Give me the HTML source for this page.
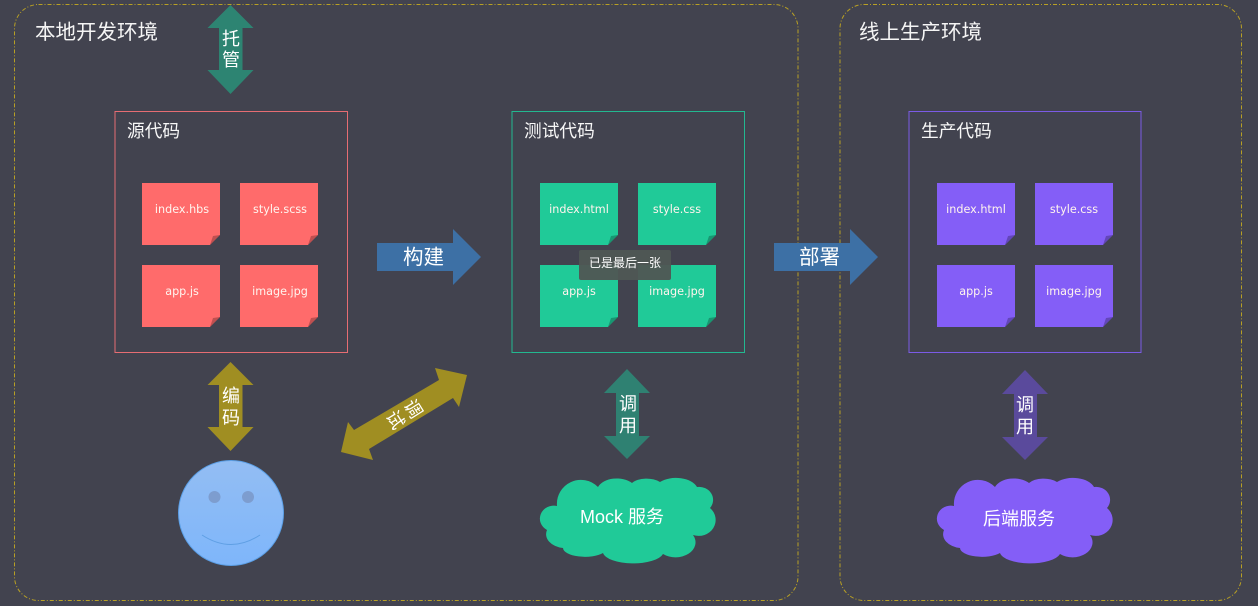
<!DOCTYPE html>
<html lang="zh">
<head>
<meta charset="utf-8">
<title>开发环境与生产环境</title>
<style>
html,body{margin:0;padding:0;width:1258px;height:606px;overflow:hidden;background:#42434f}
svg{display:block;filter:blur(.3px)}
text{font-family:"Liberation Sans","Noto Sans CJK SC",sans-serif;fill:#fff}
.n{font-family:"DejaVu Sans","Liberation Sans",sans-serif;font-size:11.2px;text-anchor:middle;fill:#fff4ee}
.t{font-size:20.5px;fill:#f5f5f5}
.b{font-size:17.7px;fill:#f8f8f8}
.m{font-size:18px;text-anchor:middle}
</style>
</head>
<body>
<svg width="1258" height="606" viewBox="0 0 1258 606" xmlns="http://www.w3.org/2000/svg">
<defs>
<linearGradient id="face" x1="0" y1="0" x2="0" y2="1"><stop offset="0" stop-color="#93bdf3"/><stop offset="1" stop-color="#7eb6fb"/></linearGradient>
<path id="cloud" d="M547 530A14 13 0 0 1 557 506A24 24 0 0 1 598 487A20 13 0 0 1 632 483A17 9 0 0 1 660 482A22 13 0 0 1 697 487A14 13 0 0 1 710 508A17 16 0 0 1 693 535A20 15 0 0 1 663 554A30.5 12 0 0 1 603 553A22 9 0 0 1 563 548A20 14 0 0 1 547 530Z"/>
<g id="note"><path d="M0 0H78V52L68 62H0Z"/><path d="M78 52L71 53L68 62Z" fill="#000" opacity=".25"/></g>
</defs>

<rect width="1258" height="606" fill="#42434f"/>

<!-- environment frames -->
<rect x="14.5" y="4.5" width="783.5" height="596" rx="24" fill="none" stroke="#b8a024" stroke-width="1" stroke-dasharray="4 2 1 2"/>
<rect x="840" y="4.5" width="401.5" height="596" rx="24" fill="none" stroke="#b8a024" stroke-width="1" stroke-dasharray="4 2 1 2"/>
<text class="t" x="35" y="39">本地开发环境</text>
<text class="t" x="859" y="39">线上生产环境</text>

<!-- code boxes -->
<rect x="115" y="111.5" width="232.500" height="241" fill="none" stroke="#e66d73"/>
<rect x="512" y="111.5" width="232.500" height="241" fill="none" stroke="#23b890"/>
<rect x="909" y="111.5" width="232" height="241" fill="none" stroke="#7b5be6"/>
<text class="b" x="127" y="137">源代码</text>
<text class="b" x="524" y="137">测试代码</text>
<text class="b" x="921" y="137">生产代码</text>

<!-- red notes -->
<g fill="#ff6b6b">
<use href="#note" x="142" y="183"/><use href="#note" x="240" y="183"/>
<use href="#note" x="142" y="265"/><use href="#note" x="240" y="265"/>
</g>
<text class="n" x="182" y="213">index.hbs</text>
<text class="n" x="280" y="213">style.scss</text>
<text class="n" x="182" y="295">app.js</text>
<text class="n" x="280" y="295">image.jpg</text>

<!-- green notes -->
<g fill="#20ca98">
<use href="#note" x="540" y="183"/><use href="#note" x="638" y="183"/>
<use href="#note" x="540" y="265"/><use href="#note" x="638" y="265"/>
</g>
<text class="n" x="579" y="213">index.html</text>
<text class="n" x="677" y="213">style.css</text>
<text class="n" x="579" y="295">app.js</text>
<text class="n" x="677" y="295">image.jpg</text>

<!-- purple notes -->
<g fill="#845ef7">
<use href="#note" x="937" y="183"/><use href="#note" x="1035" y="183"/>
<use href="#note" x="937" y="265"/><use href="#note" x="1035" y="265"/>
</g>
<text class="n" x="976" y="213">index.html</text>
<text class="n" x="1074" y="213">style.css</text>
<text class="n" x="976" y="295">app.js</text>
<text class="n" x="1074" y="295">image.jpg</text>

<!-- vertical double arrows -->
<path fill="#2d8472" d="M230.5 5L253.5 28H242.500V70H253.5L230.5 94L207.500 70H219V28H207.500Z"/>
<text class="m" x="231" y="45">托</text>
<text class="m" x="231" y="66">管</text>

<path fill="#a08e22" d="M230.5 362L253.5 385H242.500V427H253.5L230.5 451L207.500 427H219V385H207.500Z"/>
<text class="m" x="231" y="402">编</text>
<text class="m" x="231" y="424">码</text>

<path fill="#2f8172" d="M627 369L650 393H639V436H650L627 459L604 436H616V393H604Z"/>
<text class="m" x="628" y="410">调</text>
<text class="m" x="628" y="432">用</text>

<path fill="#5a4a9c" d="M1025 370L1048 394H1037V437H1048L1025 460L1002 437H1014V394H1002Z"/>
<text class="m" x="1025" y="411">调</text>
<text class="m" x="1025" y="433">用</text>

<!-- diagonal double arrow -->
<path fill="#a08e22" d="M467 375L459 407L453 398L369 449L373 460L341 452L348 422L354 430L439 380L435 368Z"/>
<text class="m" x="413" y="415" transform="rotate(58 413 409)">调</text>
<text class="m" x="395" y="426" transform="rotate(58 395 420)">试</text>

<!-- right arrows -->
<path fill="#3d70a5" d="M377 243H453V229L481 257L453 285V271H377Z"/>
<text x="403" y="264" style="font-size:20.5px">构建</text>
<path fill="#3d70a5" d="M774 243H850V229L878 257L850 285V271H774Z"/>
<text x="799" y="264" style="font-size:20.5px">部署</text>

<!-- toast -->
<rect x="579" y="250" width="92" height="30" rx="2" fill="#4f5754" fill-opacity=".96"/>
<text x="625" y="267" style="font-size:12px;text-anchor:middle">已是最后一张</text>

<!-- smiley -->
<circle cx="231" cy="513" r="52.5" fill="url(#face)" stroke="#5b9fe6" stroke-width="1"/>
<circle cx="214.500" cy="497" r="6" fill="#7d9dcf"/>
<circle cx="248" cy="497" r="6" fill="#7d9dcf"/>
<path d="M202 535Q231 554 260 535" fill="none" stroke="#5f9fe4" stroke-width="1"/>

<!-- clouds -->
<use href="#cloud" fill="#20ca98"/>
<use href="#cloud" fill="#845ef7" x="397"/>
<text class="m" x="622" y="523">Mock 服务</text>
<text class="m" x="1019" y="525">后端服务</text>
</svg>
</body>
</html>
